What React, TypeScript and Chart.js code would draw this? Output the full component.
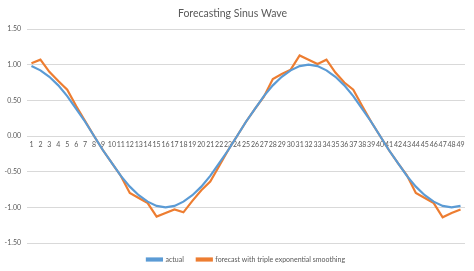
import React, { useEffect, useRef } from "react";
import { Chart, registerables } from "chart.js";

Chart.register(...registerables);

const categories = [
  "1", "2", "3", "4", "5", "6", "7", "8", "9", "10",
  "11", "12", "13", "14", "15", "16", "17", "18", "19", "20",
  "21", "22", "23", "24", "25", "26", "27", "28", "29", "30",
  "31", "32", "33", "34", "35", "36", "37", "38", "39", "40",
  "41", "42", "43", "44", "45", "46", "47", "48", "49",
];

const actual = [
  0.98, 0.92, 0.83, 0.71, 0.56, 0.38, 0.2, 0.0, -0.2, -0.38,
  -0.56, -0.71, -0.83, -0.92, -0.98, -1.0, -0.98, -0.92, -0.83, -0.71,
  -0.56, -0.38, -0.2, 0.0, 0.2, 0.38, 0.56, 0.71, 0.83, 0.92,
  0.98, 1.0, 0.98, 0.92, 0.83, 0.71, 0.56, 0.38, 0.2, 0.0,
  -0.2, -0.38, -0.56, -0.71, -0.83, -0.92, -0.98, -1.0, -0.98,
];

const forecast = [
  1.02, 1.07, 0.9, 0.77, 0.65, 0.42, 0.21, 0.0, -0.2, -0.38,
  -0.56, -0.8, -0.87, -0.94, -1.13, -1.08, -1.03, -1.07, -0.91, -0.76,
  -0.64, -0.42, -0.2, 0.0, 0.2, 0.38, 0.55, 0.8, 0.87, 0.93,
  1.13, 1.07, 1.01, 1.07, 0.89, 0.75, 0.65, 0.42, 0.2, 0.0,
  -0.2, -0.38, -0.55, -0.8, -0.87, -0.94, -1.14, -1.08, -1.03,
];

const yTicks = { min: -1.5, max: 1.5, step: 0.5 };

const FONT = "Lato, 'Open Sans', sans-serif";
const GREY = "#595959";

export default function App() {
  const ref = useRef<HTMLCanvasElement | null>(null);

  useEffect(() => {
    if (!ref.current) return;
    const chart = new Chart(ref.current, {
      type: "line",
      data: {
        labels: categories,
        datasets: [
          {
            label: "actual",
            data: actual,
            borderColor: "#5B9BD5",
            backgroundColor: "#5B9BD5",
            borderWidth: 2.2,
            pointRadius: 0,
            tension: 0,
          },
          {
            label: "forecast with triple exponential smoothing",
            data: forecast,
            borderColor: "#ED7D31",
            backgroundColor: "#ED7D31",
            borderWidth: 2.2,
            pointRadius: 0,
            tension: 0,
          },
        ],
      },
      options: {
        animation: false,
        responsive: false,
        maintainAspectRatio: false,
        layout: { padding: { left: 0, right: 9, top: 0, bottom: -2 } },
        plugins: {
          title: {
            display: true,
            text: "Forecasting Sinus Wave",
            color: GREY,
            font: { family: FONT, size: 10.5, weight: "normal" },
            padding: { top: 7.5, bottom: 8.9 },
          },
          legend: {
            position: "bottom",
            fullSize: false,
            labels: {
              color: GREY,
              font: { family: FONT, size: 7 },
              boxWidth: 15,
              boxHeight: 2,
              padding: 13,
            },
          },
          tooltip: { enabled: false },
        },
        scales: {
          x: {
            position: { y: 0 } as any,
            offset: true,
            grid: { display: false, drawTicks: false },
            border: { display: false },
            ticks: {
              color: GREY,
              font: { family: FONT, size: 7 },
              autoSkip: false,
              maxRotation: 0,
              minRotation: 0,
              padding: 5,
            },
          },
          y: {
            min: yTicks.min,
            max: yTicks.max,
            grid: { color: "#d9d9d9", drawTicks: false },
            border: { display: false },
            ticks: {
              stepSize: yTicks.step,
              color: GREY,
              font: { family: FONT, size: 7 },
              padding: 6,
              callback: (v: any) => Number(v).toFixed(2),
            },
            afterFit: (scale: any) => {
              scale.width = 27;
            },
          },
        },
      },
    });
    return () => chart.destroy();
  }, []);

  return (
    <div style={{ position: "fixed", left: 0, top: 0, width: 474, height: 271, background: "#fff" }}>
      <canvas ref={ref} width={474} height={271} style={{ width: 474, height: 271 }} />
    </div>
  );
}
